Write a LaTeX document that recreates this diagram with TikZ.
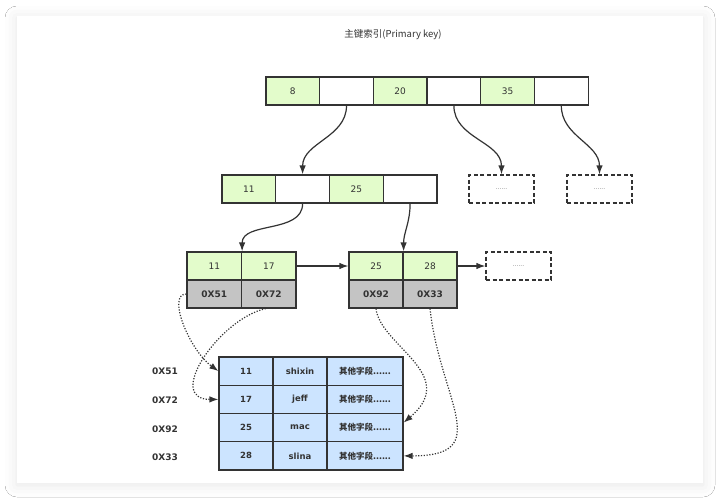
\documentclass[tikz,border=0pt]{standalone}
\usepackage{fontspec}
\setmainfont{DejaVu Sans}
\newfontfamily\cjk{Noto Sans CJK SC}
\usetikzlibrary{arrows.meta,shadows.blur}
\definecolor{cGreen}{HTML}{E3FCCB}
\definecolor{cBlue}{HTML}{CCE4FF}
\definecolor{cGrey}{HTML}{C4C4C4}
\definecolor{edge}{HTML}{333333}
\tikzset{
 cell/.style={draw=edge, line width=1.2pt, minimum height=28pt, minimum width=53.7pt, inner sep=0pt, font=\fontsize{9}{10}\selectfont, text=edge},
 gcell/.style={cell, fill=cGreen},
 wcell/.style={cell, fill=white},
 grcell/.style={cell, fill=cGrey, font=\fontsize{9}{10}\selectfont\bfseries},
 bcell/.style={cell, fill=cBlue, minimum width=54pt, minimum height=28.25pt, font=\fontsize{8.5}{10}\selectfont\bfseries},
 dbox/.style={draw=edge, dash pattern=on 4pt off 2.5pt, line width=1.2pt, minimum width=65pt, minimum height=28pt, fill=white, font=\fontsize{6}{7}\selectfont, text=gray},
 arr/.style={draw=edge, line width=1.2pt, -{Latex[length=9pt,width=6.5pt]}},
 darr/.style={arr, dash pattern=on 1.2pt off 1.6pt},
 addr/.style={font=\fontsize{9}{10}\selectfont\bfseries, text=edge},
 cjkb/.style={font=\cjk\fontsize{8.5}{10}\selectfont\bfseries}
}
\begin{document}
\begin{tikzpicture}[x=1pt,y=1pt]
\useasboundingbox (0,0) rectangle (720,-500);
\fill[white] (0,0) rectangle (720,-500);
\fill[white, blur shadow={shadow xshift=0pt, shadow yshift=-2pt, shadow blur radius=12pt, shadow opacity=10}] (17,-16) rectangle (703,-483);

\node[font=\cjk\fontsize{9.5}{11}\selectfont, text=edge] (title) at (393,-35) {主键索引(Primary key)};

% root
\node[gcell] (t1) at (292.8,-91) {8};
\node[wcell] (t2) at (346.5,-91) {};
\node[gcell] (t3) at (400.2,-91) {20};
\node[wcell] (t4) at (453.9,-91) {};
\node[gcell] (t5) at (507.6,-91) {35};
\node[wcell] (t6) at (561.3,-91) {};

% second level
\node[gcell] (m1) at (248.9,-189) {11};
\node[wcell] (m2) at (302.6,-189) {};
\node[gcell] (m3) at (356.4,-189) {25};
\node[wcell] (m4) at (410.1,-189) {};
\node[dbox] (d1) at (501.5,-189) {......};
\node[dbox] (d2) at (599.5,-189) {......};

% leaves
\node[gcell, minimum width=54.5pt] (l1a) at (214.25,-266) {11};
\node[gcell, minimum width=54.5pt] (l1b) at (268.75,-266) {17};
\node[grcell, minimum width=54.5pt] (l1c) at (214.25,-294) {0X51};
\node[grcell, minimum width=54.5pt] (l1d) at (268.75,-294) {0X72};
\node[gcell, minimum width=54pt] (l2a) at (376,-266) {25};
\node[gcell, minimum width=54pt] (l2b) at (430,-266) {28};
\node[grcell, minimum width=54pt] (l2c) at (376,-294) {0X92};
\node[grcell, minimum width=54pt] (l2d) at (430,-294) {0X33};
\node[dbox] (d3) at (518.5,-266) {......};

% table
\node[bcell] (r1c1) at (246,-371.1) {11};
\node[bcell] (r1c2) at (300,-371.1) {shixin};
\node[bcell, cjkb, minimum width=76pt] (r1c3) at (365,-371.1) {其他字段......};
\node[bcell] (r2c1) at (246,-399.4) {17};
\node[bcell] (r2c2) at (300,-399.4) {jeff};
\node[bcell, cjkb, minimum width=76pt] (r2c3) at (365,-399.4) {其他字段......};
\node[bcell] (r3c1) at (246,-427.6) {25};
\node[bcell] (r3c2) at (300,-427.6) {mac};
\node[bcell, cjkb, minimum width=76pt] (r3c3) at (365,-427.6) {其他字段......};
\node[bcell] (r4c1) at (246,-455.9) {28};
\node[bcell] (r4c2) at (300,-455.9) {slina};
\node[bcell, cjkb, minimum width=76pt] (r4c3) at (365,-455.9) {其他字段......};

% addresses
\node[addr] (a1) at (165,-371) {0X51};
\node[addr] (a2) at (165,-400) {0X72};
\node[addr] (a3) at (165,-429) {0X92};
\node[addr] (a4) at (165,-457) {0X33};

% tree arrows
\draw[arr] (t2.south) to[out=-90,in=90] (m2.north);
\draw[arr] (t4.south) to[out=-90,in=90] (d1.north);
\draw[arr] (t6.south) to[out=-90,in=90] (d2.north);
\draw[arr] (m2.south) to[out=-90,in=90] (l1a.north east);
\draw[arr] (m4.south) to[out=-90,in=90] (l2a.north east);
\draw[arr] (l1b.east) -- (l2a.west);
\draw[arr] (l2b.east) -- (d3.west);

% pointer arrows
\draw[darr] (l1c.west) .. controls +(-20,0) and +(-29,21) .. (r1c1.west);
\draw[darr] ([xshift=-3pt]l1d.south) .. controls +(-46,-10) and +(-54,0) .. (r2c1.west);
\draw[darr] (l2c.south) .. controls +(4,-37) and +(57,48) .. ([yshift=5pt]r3c3.east);
\draw[darr] (l2d.south) .. controls +(10,-92) and +(92,0) .. (r4c3.east);
\end{tikzpicture}
\end{document}
